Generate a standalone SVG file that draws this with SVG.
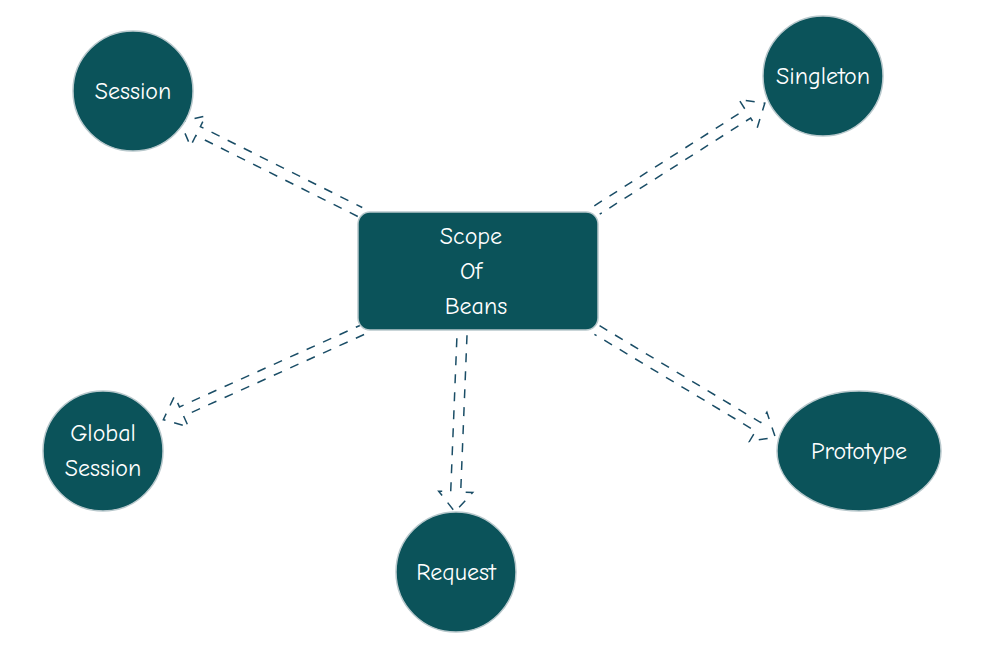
<svg xmlns="http://www.w3.org/2000/svg" width="981" height="659" viewBox="0 0 981 659">
<style>
.n{fill:#0b535a;stroke:#b8c8cc;stroke-width:1.5}
.t{fill:#ffffff;font-family:"Comic Neue","DejaVu Sans",sans-serif;font-size:24px;text-anchor:middle}
.a{fill:none;stroke:#1a4d66;stroke-width:1.5;stroke-dasharray:9,9}
</style>
<rect width="981" height="659" fill="#ffffff"/>
<g id="connectors">
<path class="a" transform="translate(360,212) rotate(206.57)" d="M0,-5 L181,-5 L181,-17 L201,0 L181,17 L181,5 L0,5"/>
<path class="a" transform="translate(597,210) rotate(-32.5)" d="M0,-5 L179,-5 L179,-17 L199,0 L179,17 L179,5 L0,5"/>
<path class="a" transform="translate(362,330) rotate(155.7)" d="M0,-5 L198,-5 L198,-17 L218,0 L198,17 L198,5 L0,5"/>
<path class="a" transform="translate(462,335) rotate(92.3)" d="M0,-5 L157,-5 L157,-17 L177,0 L157,17 L157,5 L0,5"/>
<path class="a" transform="translate(597,330) rotate(31)" d="M0,-5 L188,-5 L188,-17 L208,0 L188,17 L188,5 L0,5"/>
</g>
<g id="scope"><rect class="n" x="358" y="212" width="240" height="118" rx="12"/>
<text class="t" x="471" y="244">Scope</text><text class="t" x="471" y="279">Of</text><text class="t" x="476" y="314">Beans</text></g>
<g id="session"><circle class="n" cx="133" cy="91" r="60"/><text class="t" x="133" y="99">Session</text></g>
<g id="singleton"><circle class="n" cx="823" cy="76" r="60"/><text class="t" x="823" y="84">Singleton</text></g>
<g id="global"><circle class="n" cx="103" cy="451" r="60"/><text class="t" x="103" y="441">Global</text><text class="t" x="103" y="476">Session</text></g>
<g id="request"><circle class="n" cx="456" cy="572" r="60"/><text class="t" x="456" y="580">Request</text></g>
<g id="prototype"><ellipse class="n" cx="859" cy="451" rx="82" ry="60"/><text class="t" x="859" y="459">Prototype</text></g>
</svg>
